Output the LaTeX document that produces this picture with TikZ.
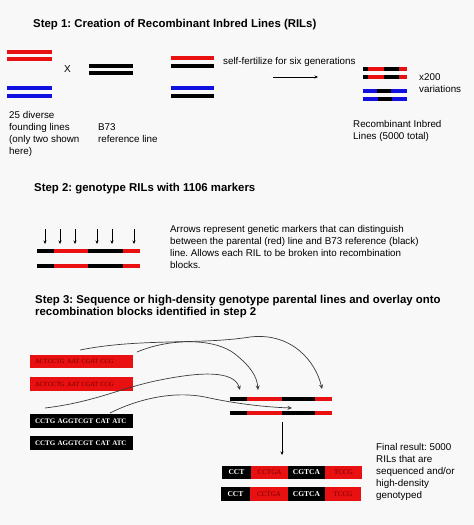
\documentclass[tikz,border=0pt]{standalone}
\usepackage{fontspec}
\setmainfont{Liberation Sans}
\newfontfamily\seqfont{Liberation Serif}
\usetikzlibrary{arrows.meta}
\definecolor{myred}{RGB}{232,16,16}
\definecolor{myblue}{RGB}{16,16,225}
\definecolor{seqred}{RGB}{115,0,0}
\definecolor{bgcol}{RGB}{248,248,248}
\definecolor{curvecol}{RGB}{60,60,60}
\frenchspacing
\begin{document}
\begin{tikzpicture}[x=1pt,y=-1pt,
  lbl/.style={font=\fontsize{9.8}{11.9}\selectfont, anchor=base west, inner sep=0pt, align=left},
  ttl/.style={font=\bfseries\fontsize{11.4}{12}\selectfont, anchor=base west, inner sep=0pt, align=left},
  chr/.style={line width=3.3pt},
  chrb/.style={line width=4.2pt},
  redseq/.style={fill=myred, minimum height=13.5pt, text width=93pt, inner xsep=5pt, inner ysep=0pt, align=left, font=\seqfont\fontsize{6.4}{7}\selectfont, text=seqred},
  blkseq/.style={fill=black, minimum height=13.5pt, text width=93pt, inner xsep=5pt, inner ysep=0pt, align=left, font=\seqfont\bfseries\fontsize{7}{8}\selectfont, text=white},
  segk/.style={fill=black, minimum height=13.5pt, inner sep=0pt, font=\seqfont\bfseries\fontsize{7.5}{8}\selectfont, text=white},
  segr/.style={fill=myred, minimum height=13.5pt, inner sep=0pt, font=\seqfont\fontsize{7}{8}\selectfont, text=seqred},
  markarrow/.style={-{Stealth[length=3.5pt,width=3pt]}, line width=0.6pt},
  curvearrow/.style={-{Stealth[length=4.5pt,width=4pt]}, line width=0.7pt, draw=curvecol}
]
\fill[bgcol] (0,0) rectangle (474,525);
\useasboundingbox (0,0) rectangle (474,525);

% ---------------- Step 1 ----------------
\node[ttl] (t1) at (33,27) {Step 1: Creation of Recombinant Inbred Lines (RILs)};

\draw[chr, myred] (7,52) -- (52,52);
\draw[chr, myred] (7,59) -- (52,59);
\draw[chr, myblue] (7,88) -- (52,88);
\draw[chr, myblue] (7,96) -- (52,96);
\node[lbl, font=\fontsize{10}{12}\selectfont] (cross) at (64,72.5) {X};
\draw[chr, black] (89,66) -- (133,66);
\draw[chr, black] (89,73) -- (133,73);

\draw[chr, myred] (171,58) -- (214,58);
\draw[chr, black] (171,66) -- (214,66);
\draw[chr, myblue] (171,88) -- (214,88);
\draw[chr, black] (171,96) -- (214,96);

\node[lbl] (self) at (223,64.5) {self-fertilize for six generations};
\coordinate (a1) at (273,77);
\coordinate (a2) at (318,77);
\draw[markarrow, line width=0.5pt] (a1) -- (a2);

% RILs
\foreach \y in {69,77}{
  \draw[chr, black] (363,\y) -- (368,\y);
  \draw[chr, myred] (368,\y) -- (384,\y);
  \draw[chr, black] (384,\y) -- (399,\y);
  \draw[chr, myred] (399,\y) -- (407,\y);
}
\draw[chr, myblue] (363,91) -- (377,91);
\draw[chr, black] (377,91) -- (391,91);
\draw[chr, myblue] (391,91) -- (407,91);
\draw[chr, myblue] (363,99) -- (378,99);
\draw[chr, black] (378,99) -- (392,99);
\draw[chr, myblue] (392,99) -- (407,99);

\node[lbl] (var) at (419,92.4) {x200\\variations};
\node[lbl] (rilt) at (353,139.4) {Recombinant Inbred\\Lines (5000 total)};
\node[lbl] (found) at (9,154.2) {25 diverse\\founding lines\\(only two shown\\here)};
\node[lbl] (b73) at (98,142.4) {B73\\reference line};

% ---------------- Step 2 ----------------
\node[ttl] (t2) at (34,191) {Step 2: genotype RILs with 1106 markers};

\foreach \x [count=\i] in {45,60,75,97,112,134}{
  \coordinate (mt\i) at (\x,229);
  \coordinate (mb\i) at (\x,244);
  \draw[markarrow] (mt\i) -- (mb\i);
}
\foreach \y in {251,266}{
  \draw[chrb, black] (37,\y) -- (54,\y);
  \draw[chrb, myred] (54,\y) -- (88,\y);
  \draw[chrb, black] (88,\y) -- (123,\y);
  \draw[chrb, myred] (123,\y) -- (140,\y);
}
\node[lbl] (t2txt) at (170,268.2) {Arrows represent genetic markers that can distinguish\\between the parental (red) line and B73 reference (black)\\line. Allows each RIL to be broken into recombination\\blocks.};

% ---------------- Step 3 ----------------
\node[ttl] (t3) at (35,315.5) {Step 3: Sequence or high-density genotype parental lines and overlay onto\\recombination blocks identified in step 2};

\node[redseq] (r1) at (81.5,361.5) {ACTCCTG AAT CGAT CCG};
\node[redseq] (r2) at (81.5,384) {ACTCCTG AAT CGAT CCG};
\node[blkseq] (k1) at (81.5,421) {CCTG AGGTCGT CAT ATC};
\node[blkseq] (k2) at (81.5,443) {CCTG AGGTCGT CAT ATC};

\foreach \y in {399,413}{
  \draw[chrb, black] (230,\y) -- (247,\y);
  \draw[chrb, myred] (247,\y) -- (282,\y);
  \draw[chrb, black] (282,\y) -- (315,\y);
  \draw[chrb, myred] (315,\y) -- (332,\y);
}

\coordinate (s1) at (80,350);
\coordinate (e1) at (322,389);
\coordinate (s2) at (137,352);
\coordinate (e2) at (258,390);
\coordinate (s3) at (45,408);
\coordinate (e3) at (240,390);
\coordinate (s4) at (110,413);
\coordinate (e4) at (292,408);
\draw[curvearrow] (s1) .. controls (140,338) and (200,345) .. (250,337) .. controls (292,332) and (316,362) .. (e1);
\draw[curvearrow] (s2) .. controls (170,338) and (215,338) .. (235,354) .. controls (250,366) and (257,376) .. (e2);
\draw[curvearrow] (s3) .. controls (95,402) and (120,388) .. (160,380) .. controls (200,372) and (234,370) .. (e3);
\draw[curvearrow] (s4) .. controls (140,398) and (175,391) .. (205,397) .. controls (232,403) and (262,407) .. (e4);

\coordinate (v1) at (282,422);
\coordinate (v2) at (282,455);
\draw[markarrow] (v1) -- (v2);

% final rows
\node[segk, minimum width=29pt] (f1a) at (236.5,472.5) {CCT};
\node[segr, minimum width=37pt] (f1b) at (269.5,472.5) {CCTGA};
\node[segk, minimum width=37pt] (f1c) at (306.5,472.5) {CGTCA};
\node[segr, minimum width=37pt] (f1d) at (343.5,472.5) {TCCG};
\node[segk, minimum width=29pt] (f2a) at (235.5,494) {CCT};
\node[segr, minimum width=38pt] (f2b) at (269,494) {CCTGA};
\node[segk, minimum width=37pt] (f2c) at (306.5,494) {CGTCA};
\node[segr, minimum width=36pt] (f2d) at (343,494) {TCCG};

\node[lbl] (final) at (376,498.1) {Final result: 5000\\RILs that are\\sequenced and/or\\high-density\\genotyped};
\end{tikzpicture}
\end{document}
